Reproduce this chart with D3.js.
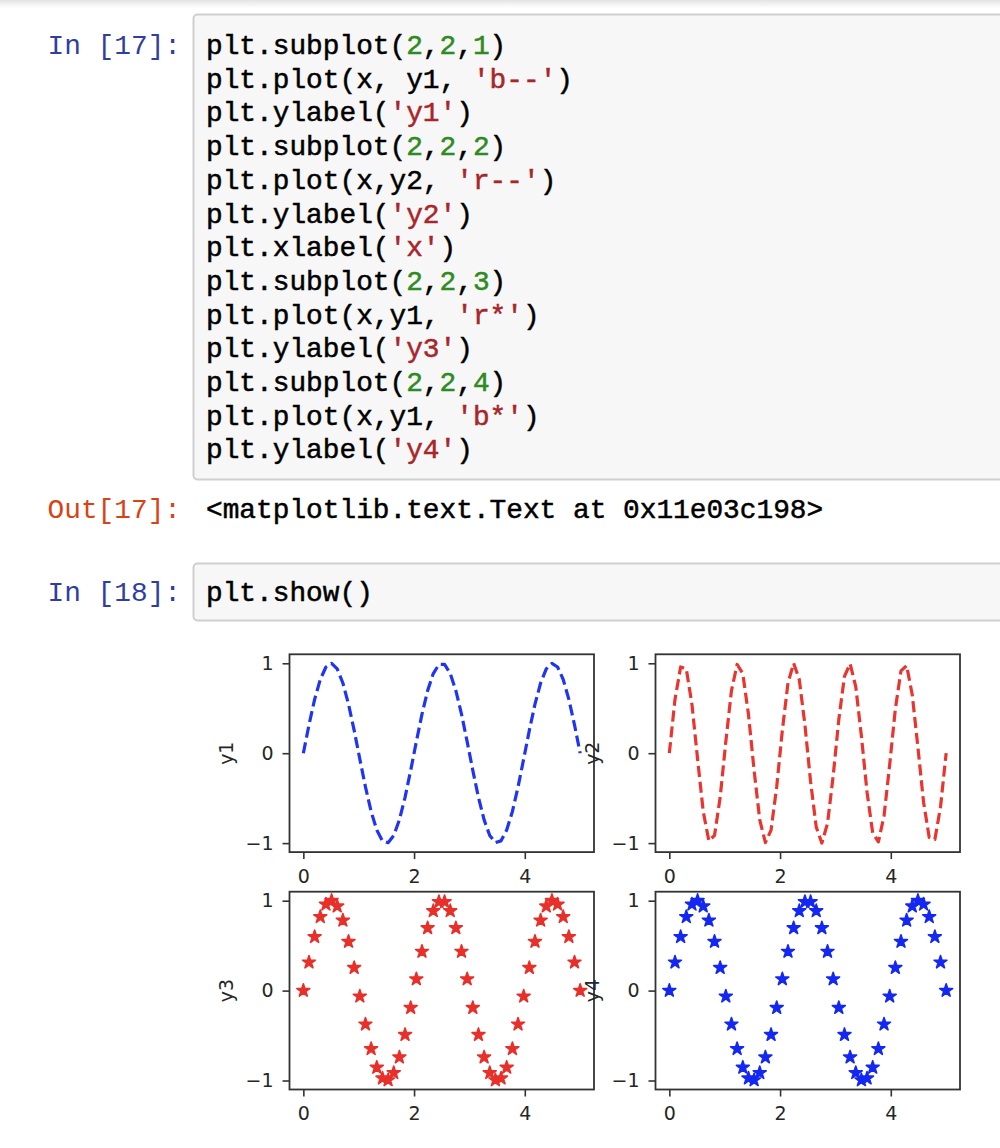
<!DOCTYPE html>
<html>
<head>
<meta charset="utf-8">
<script src="https://cdn.jsdelivr.net/npm/d3@7"></script>
<style>
  html, body { margin: 0; padding: 0; background: #fff; }
  svg { display: block; }
  text { white-space: pre; }
</style>
</head>
<body>
<svg id="nb" width="1000" height="1148"></svg>
<script>
// ---------------- data ----------------
const xs = [0, 0.102, 0.204, 0.306, 0.408, 0.510, 0.612, 0.714, 0.816, 0.918,
  1.020, 1.122, 1.224, 1.327, 1.429, 1.531, 1.633, 1.735, 1.837, 1.939,
  2.041, 2.143, 2.245, 2.347, 2.449, 2.551, 2.653, 2.755, 2.857, 2.959,
  3.061, 3.163, 3.265, 3.367, 3.469, 3.571, 3.673, 3.776, 3.878, 3.980,
  4.082, 4.184, 4.286, 4.388, 4.490, 4.592, 4.694, 4.796, 4.898, 5.000];

const y1 = [0, 0.315, 0.598, 0.820, 0.959, 1.000, 0.938, 0.781, 0.545, 0.254,
  -0.064, -0.375, -0.648, -0.855, -0.975, -0.995, -0.915, -0.741, -0.491, -0.191,
  0.128, 0.434, 0.696, 0.886, 0.987, 0.987, 0.886, 0.696, 0.434, 0.128,
  -0.191, -0.491, -0.741, -0.915, -0.995, -0.975, -0.855, -0.648, -0.375, -0.064,
  0.254, 0.545, 0.781, 0.938, 1.000, 0.959, 0.820, 0.598, 0.315, 0];

const y2 = [0, 0.598, 0.959, 0.938, 0.545, -0.064, -0.648, -0.975, -0.915, -0.491,
  0.128, 0.696, 0.987, 0.886, 0.434, -0.191, -0.741, -0.995, -0.855, -0.375,
  0.254, 0.781, 1.000, 0.820, 0.315, -0.315, -0.820, -1.000, -0.781, -0.254,
  0.375, 0.855, 0.995, 0.741, 0.191, -0.434, -0.886, -0.987, -0.696, -0.128,
  0.491, 0.915, 0.975, 0.648, 0.064, -0.545, -0.938, -0.959, -0.598, 0];

const xTicks = [0, 2, 4];
const yTicks = [-1, 0, 1];
const yLabels = ["y1", "y2", "y3", "y4"];

// notebook text
const codeLines = [
  [["plt.subplot(", "t"], ["2", "n"], [",", "t"], ["2", "n"], [",", "t"], ["1", "n"], [")", "t"]],
  [["plt.plot(x, y1, ", "t"], ["'b--'", "s"], [")", "t"]],
  [["plt.ylabel(", "t"], ["'y1'", "s"], [")", "t"]],
  [["plt.subplot(", "t"], ["2", "n"], [",", "t"], ["2", "n"], [",", "t"], ["2", "n"], [")", "t"]],
  [["plt.plot(x,y2, ", "t"], ["'r--'", "s"], [")", "t"]],
  [["plt.ylabel(", "t"], ["'y2'", "s"], [")", "t"]],
  [["plt.xlabel(", "t"], ["'x'", "s"], [")", "t"]],
  [["plt.subplot(", "t"], ["2", "n"], [",", "t"], ["2", "n"], [",", "t"], ["3", "n"], [")", "t"]],
  [["plt.plot(x,y1, ", "t"], ["'r*'", "s"], [")", "t"]],
  [["plt.ylabel(", "t"], ["'y3'", "s"], [")", "t"]],
  [["plt.subplot(", "t"], ["2", "n"], [",", "t"], ["2", "n"], [",", "t"], ["4", "n"], [")", "t"]],
  [["plt.plot(x,y1, ", "t"], ["'b*'", "s"], [")", "t"]],
  [["plt.ylabel(", "t"], ["'y4'", "s"], [")", "t"]]
];
const promptIn1 = "In [17]:";
const promptOut1 = "Out[17]:";
const outText = "<matplotlib.text.Text at 0x11e03c198>";
const promptIn2 = "In [18]:";
const code2 = "plt.show()";

// ---------------- drawing ----------------
const svg = d3.select("#nb");
const MONO = "'Liberation Mono', 'DejaVu Sans Mono', monospace";
const SANS = "'DejaVu Sans', sans-serif";
const tokColor = { t: "#000000", n: "#2e8a22", s: "#a8262a" };

// top shadow
const defs = svg.append("defs");
const g0 = defs.append("linearGradient").attr("id", "topShade").attr("x1", 0).attr("y1", 0).attr("x2", 0).attr("y2", 1);
g0.append("stop").attr("offset", "0%").attr("stop-color", "#e4e4e4");
g0.append("stop").attr("offset", "100%").attr("stop-color", "#ffffff");
svg.append("rect").attr("x", 0).attr("y", 0).attr("width", 1000).attr("height", 8).attr("fill", "url(#topShade)");

// input cell 1
svg.append("rect").attr("x", 193.5).attr("y", 14.5).attr("width", 900).attr("height", 465)
  .attr("rx", 4).attr("fill", "#f7f7f7").attr("stroke", "#cfcfcf").attr("stroke-width", 2);

const codeFont = 27.8;
const lineH = 33.7;
const base1 = 54;
const codeStroke = 0.5;
svg.append("text").attr("x", 181).attr("y", base1).attr("text-anchor", "end")
  .attr("font-family", MONO).attr("font-size", codeFont).attr("fill", "#303F9F").text(promptIn1);

codeLines.forEach((line, i) => {
  const t = svg.append("text").attr("x", 206).attr("y", base1 + i * lineH)
    .attr("font-family", MONO).attr("font-size", codeFont);
  line.forEach(([s, k]) => t.append("tspan").attr("fill", tokColor[k])
    .attr("stroke", tokColor[k]).attr("stroke-width", codeStroke).text(s));
});

// output 17
svg.append("text").attr("x", 181).attr("y", 518).attr("text-anchor", "end")
  .attr("font-family", MONO).attr("font-size", codeFont).attr("fill", "#D84315").text(promptOut1);
svg.append("text").attr("x", 206).attr("y", 518)
  .attr("font-family", MONO).attr("font-size", codeFont).attr("fill", "#000")
  .attr("stroke", "#000").attr("stroke-width", codeStroke).text(outText);

// input cell 2
svg.append("rect").attr("x", 193.5).attr("y", 563.5).attr("width", 900).attr("height", 57)
  .attr("rx", 4).attr("fill", "#f7f7f7").attr("stroke", "#cfcfcf").attr("stroke-width", 2);
svg.append("text").attr("x", 181).attr("y", 601).attr("text-anchor", "end")
  .attr("font-family", MONO).attr("font-size", codeFont).attr("fill", "#303F9F").text(promptIn2);
svg.append("text").attr("x", 206).attr("y", 601)
  .attr("font-family", MONO).attr("font-size", codeFont).attr("fill", "#000")
  .attr("stroke", "#000").attr("stroke-width", codeStroke).text(code2);

// ---------------- the figure ----------------
const colLeft = [289.5, 655.5];
const rowTop = [654.3, 891.7];
const axW = 304.5, axH = 197.8;
const BLUE = "#2035f2", RED = "#e8352f";
const BLUE_S = "#1428f2", RED_S = "#e8302a";

const panels = [
  { c: 0, r: 0, ys: y1, kind: "line", color: BLUE },
  { c: 1, r: 0, ys: y2, kind: "line", color: RED },
  { c: 0, r: 1, ys: y1, kind: "star", color: RED_S },
  { c: 1, r: 1, ys: y1, kind: "star", color: BLUE_S }
];

const tickFont = 19;
const spine = "#333333";

panels.forEach((p, idx) => {
  const left = colLeft[p.c], top = rowTop[p.r];
  const x = d3.scaleLinear().domain([-0.25, 5.25]).range([left, left + axW]);
  const y = d3.scaleLinear().domain([-1.1, 1.1]).range([top + axH, top]);
  const g = svg.append("g");

  // axes background
  g.append("rect").attr("x", left).attr("y", top).attr("width", axW).attr("height", axH).attr("fill", "#fff");

  const pts = xs.map((xv, i) => [xv, p.ys[i]]);
  if (p.kind === "line") {
    const line = d3.line().x(d => x(d[0])).y(d => y(d[1]));
    g.append("path").attr("d", line(pts)).attr("fill", "none")
      .attr("stroke", p.color).attr("stroke-width", 3.2)
      .attr("stroke-dasharray", "11.1,4.8").attr("stroke-linejoin", "round").attr("stroke-linecap", "butt");
  } else {
    const star = d3.symbol().type(d3.symbolStar).size(52);
    g.selectAll("path.star").data(pts).join("path").attr("class", "star")
      .attr("d", star)
      .attr("transform", d => `translate(${x(d[0])},${y(d[1])})`)
      .attr("fill", p.color).attr("stroke", p.color).attr("stroke-width", 1.6)
      .attr("stroke-linejoin", "round");
  }

  // spines
  g.append("rect").attr("x", left).attr("y", top).attr("width", axW).attr("height", axH)
    .attr("fill", "none").attr("stroke", spine).attr("stroke-width", 1.8);

  const fmt = v => (v < 0 ? "\u2212" + Math.abs(v) : String(v));
  const ax = g.append("g").attr("transform", `translate(0,${top + axH})`)
    .call(d3.axisBottom(x).tickValues(xTicks).tickSize(7).tickPadding(10).tickFormat(fmt));
  const ay = g.append("g").attr("transform", `translate(${left},0)`)
    .call(d3.axisLeft(y).tickValues(yTicks).tickSize(7).tickPadding(9).tickFormat(fmt));
  [ax, ay].forEach(a => {
    a.select(".domain").remove();
    a.selectAll(".tick line").attr("stroke", spine).attr("stroke-width", 1.6);
    a.selectAll(".tick text").attr("font-family", SANS).attr("font-size", tickFont).attr("fill", "#262626");
  });

  // y label
  g.append("text")
    .attr("transform", `translate(${left - 56.5},${top + axH / 2}) rotate(-90)`)
    .attr("text-anchor", "middle").attr("font-family", SANS).attr("font-size", tickFont)
    .attr("fill", "#262626").text(yLabels[idx]);
});
</script>
</body>
</html>
